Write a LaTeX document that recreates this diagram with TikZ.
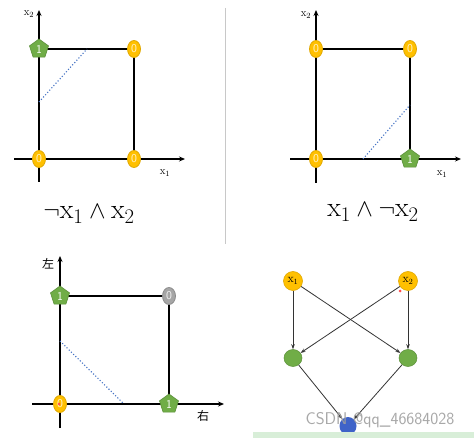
\documentclass[tikz,border=0pt]{standalone}
\usepackage{fontspec}
\newfontfamily\cjk{Noto Sans CJK SC}
\usetikzlibrary{shapes.geometric,arrows.meta}
\definecolor{orfill}{HTML}{FFC000}
\definecolor{ordraw}{HTML}{E0A800}
\definecolor{ortext}{HTML}{FFF2CC}
\definecolor{grfill}{HTML}{70AD47}
\definecolor{grdraw}{HTML}{5A8F38}
\definecolor{gyfill}{HTML}{A6A6A6}
\definecolor{gydraw}{HTML}{8C8C8C}
\definecolor{dotblue}{HTML}{4472C4}
\definecolor{nodeblue}{HTML}{3F63C8}
\definecolor{barbg}{HTML}{D8EED8}
\definecolor{sepgray}{HTML}{C8C8C8}
\begin{document}
\begin{tikzpicture}[x=1pt,y=-1pt,
  axis/.style={line width=1.5pt,-{Stealth[length=6pt,width=5pt]}},
  sq/.style={line width=1.6pt},
  zero/.style={ellipse,fill=orfill,draw=ordraw,line width=0.8pt,minimum width=13pt,minimum height=17pt,inner sep=0pt,text=ortext,font=\sffamily\fontsize{12}{12}\selectfont},
  zerogray/.style={zero,fill=gyfill,draw=gydraw,text=white!90!gray},
  one/.style={regular polygon,regular polygon sides=5,fill=grfill,draw=grdraw,line width=0.6pt,minimum size=20pt,inner sep=0pt,text=white,font=\sffamily\fontsize{12}{12}\selectfont},
  sepline/.style={sepgray,line width=1pt},
  sepr/.style={dotblue,dotted,line width=1.1pt},
  axlabel/.style={font=\fontsize{11}{11}\selectfont,inner sep=0pt},
  formula/.style={font=\fontsize{28}{32}\selectfont,inner sep=0pt},
  inp/.style={circle,fill=orfill,draw=ordraw,line width=0.6pt,minimum size=19pt,inner sep=0pt,font=\fontsize{12}{12}\selectfont},
  hid/.style={ellipse,fill=grfill,draw=grdraw,line width=0.5pt,minimum width=18pt,minimum height=17pt,inner sep=0pt},
  outn/.style={ellipse,fill=nodeblue,minimum width=17pt,minimum height=18pt,inner sep=0pt},
  conn/.style={line width=0.8pt,black!80,-{Stealth[length=5pt,width=3.5pt]}},
  reddot/.style={circle,fill=red!70,minimum size=3pt,inner sep=0pt}
]
\useasboundingbox (0,0) rectangle (474,438);
\fill[white] (0,0) rectangle (474,438);

% separator
\coordinate (s1) at (225,8);
\coordinate (s2) at (225,244);
\draw[sepline] (s1) -- (s2);

% ---------- top-left panel
\coordinate (a0) at (39,182);
\coordinate (a1) at (39,10);
\coordinate (b0) at (14,159);
\coordinate (b1) at (185,159);
\draw[axis] (a0) -- (a1);
\draw[axis] (b0) -- (b1);
\coordinate (tl) at (39,49);
\coordinate (tr) at (134,49);
\coordinate (br) at (134,159);
\draw[sq] (tl) -- (tr) -- (br);
\coordinate (d1) at (39,102);
\coordinate (d2) at (87,49);
\draw[sepr] (d1) -- (d2);
\node[one] (p1) at (39,49) {1};
\node[zero] (p2) at (134,49) {0};
\node[zero] (p3) at (39,159) {0};
\node[zero] (p4) at (134,159) {0};
\node[axlabel] (lx2a) at (29,14) {x$_2$};
\node[axlabel] (lx1a) at (165,173) {x$_1$};
\node[formula] (fa) at (89,214) {$\neg\mathrm{x}_1 \wedge \mathrm{x}_2$};

% ---------- top-right panel
\coordinate (c0) at (316,183);
\coordinate (c1) at (316,10);
\coordinate (e0) at (290,159);
\coordinate (e1) at (461,159);
\draw[axis] (c0) -- (c1);
\draw[axis] (e0) -- (e1);
\coordinate (tl2) at (316,49);
\coordinate (tr2) at (410,49);
\coordinate (br2) at (410,159);
\draw[sq] (tl2) -- (tr2) -- (br2);
\coordinate (f1) at (363,159);
\coordinate (f2) at (410,105);
\draw[sepr] (f1) -- (f2);
\node[zero] (q1) at (316,49) {0};
\node[zero] (q2) at (410,49) {0};
\node[zero] (q3) at (316,159) {0};
\node[one] (q4) at (410,159) {1};
\node[axlabel] (lx2b) at (306,15) {x$_2$};
\node[axlabel] (lx1b) at (442,174) {x$_1$};
\node[formula] (fb) at (373,212) {$\mathrm{x}_1 \wedge \neg\mathrm{x}_2$};

% ---------- bottom-left panel
\coordinate (g0) at (60,428);
\coordinate (g1) at (60,256);
\coordinate (h0) at (32,404);
\coordinate (h1) at (224,404);
\draw[axis] (g0) -- (g1);
\draw[axis] (h0) -- (h1);
\coordinate (tl3) at (60,296);
\coordinate (tr3) at (169,296);
\coordinate (br3) at (169,404);
\draw[sq] (tl3) -- (tr3) -- (br3);
\coordinate (k1) at (60,341);
\coordinate (k2) at (124,404);
\draw[sepr] (k1) -- (k2);
\node[one] (r1) at (60,296) {1};
\node[zerogray] (r2) at (169,296) {0};
\node[zero] (r3) at (60,404) {0};
\node[one] (r4) at (169,404) {1};
\node[reddot] (m1) at (59,404) {};
\node[axlabel,font=\cjk\fontsize{12}{12}\selectfont] (lz) at (48,264) {左};
\node[axlabel,font=\cjk\fontsize{12}{12}\selectfont] (ly) at (203,416) {右};

% ---------- bottom-right network
\node[inp] (x1) at (293,281) {x$_1$};
\node[inp] (x2) at (408,281) {x$_2$};
\node[reddot] (m2) at (400,291) {};
\node[hid] (h1n) at (293,358) {};
\node[hid] (h2n) at (408,358) {};
\node[outn] (y) at (348,426) {};
\draw[conn] (x1) -- (h1n);
\draw[conn] (x1) -- (h2n);
\draw[conn] (x2) -- (h1n);
\draw[conn] (x2) -- (h2n);
\draw[conn] (h1n) -- (y);
\draw[conn] (h2n) -- (y);
\fill[barbg] (253,432) rectangle (474,438);
\node[inner sep=0pt,text=gray!75,opacity=0.9,font=\sffamily\fontsize{17}{17}\selectfont] (wm) at (380,420) {CSDN @qq\_46684028};
\end{tikzpicture}
\end{document}
